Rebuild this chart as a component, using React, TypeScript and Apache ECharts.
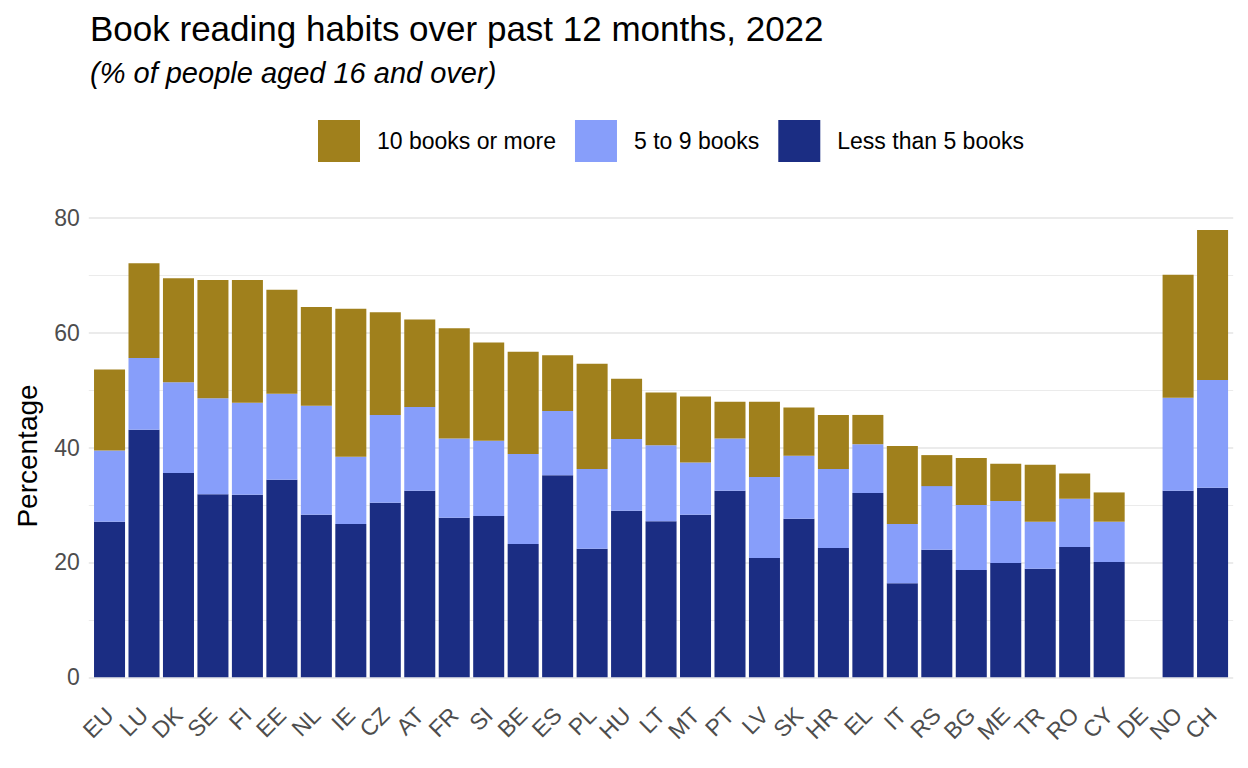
import { useEffect, useRef } from "react";
import * as echarts from "echarts";

const FONT = "'Liberation Sans', Arial, Helvetica, sans-serif";

// country codes in display order (DE has no data)
const countries = [
  "EU", "LU", "DK", "SE", "FI", "EE", "NL", "IE", "CZ", "AT", "FR",
  "SI", "BE", "ES", "PL", "HU", "LT", "MT", "PT", "LV", "SK", "HR",
  "EL", "IT", "RS", "BG", "ME", "TR", "RO", "CY", "DE", "NO", "CH",
];

const lessThan5 = [
  27.1, 43.1, 35.6, 31.9, 31.8, 34.4, 28.3, 26.7, 30.4, 32.5, 27.8,
  28.1, 23.2, 35.2, 22.4, 29.0, 27.2, 28.3, 32.5, 20.8, 27.6, 22.5,
  32.1, 16.4, 22.2, 18.7, 19.9, 18.9, 22.7, 20.1, null, 32.5, 33.0,
];

const fiveToNine = [
  12.4, 12.5, 15.8, 16.7, 16.0, 15.0, 19.0, 11.7, 15.3, 14.6, 13.8,
  13.1, 15.7, 11.2, 13.9, 12.5, 13.2, 9.1, 9.1, 14.1, 11.0, 13.8,
  8.5, 10.3, 11.1, 11.3, 10.8, 8.2, 8.4, 7.0, null, 16.2, 18.8,
];

const tenOrMore = [
  14.1, 16.5, 18.1, 20.6, 21.4, 18.1, 17.2, 25.8, 17.9, 15.2, 19.2,
  17.1, 17.8, 9.7, 18.3, 10.5, 9.2, 11.5, 6.4, 13.1, 8.4, 9.4,
  5.1, 13.6, 5.4, 8.2, 6.5, 9.9, 4.4, 5.1, null, 21.4, 26.1,
];

const legendOrder = ["10 books or more", "5 to 9 books", "Less than 5 books"];

export default function App() {
  const ref = useRef<HTMLDivElement>(null);

  useEffect(() => {
    document.body.style.margin = "0";
    if (!ref.current) return;
    const chart = echarts.init(ref.current, null, { renderer: "svg" });

    const bar = (name: string, data: (number | null)[], color: string) => ({
      name,
      type: "bar",
      stack: "total",
      xAxisIndex: 0,
      yAxisIndex: 0,
      barWidth: "90%",
      itemStyle: { color },
      data,
    });

    chart.setOption({
      animation: false,
      textStyle: { fontFamily: FONT },
      title: [
        {
          text: "Book reading habits over past 12 months, 2022",
          left: 85,
          top: 6,
          textStyle: { fontSize: 35, fontWeight: "normal", color: "#000", fontFamily: FONT },
        },
        {
          text: "(% of people aged 16 and over)",
          left: 85,
          top: 53,
          textStyle: {
            fontSize: 29,
            fontStyle: "italic",
            fontWeight: "normal",
            color: "#000",
            fontFamily: FONT,
          },
        },
      ],
      legend: {
        data: legendOrder,
        top: 115,
        left: 313,
        icon: "rect",
        itemWidth: 42,
        itemHeight: 42,
        itemGap: 19,
        textStyle: { fontSize: 23, color: "#000", padding: [0, 0, 0, 12] },
      },
      graphic: [
        {
          type: "text",
          x: 27,
          y: 456,
          rotation: Math.PI / 2,
          style: {
            text: "Percentage",
            fontSize: 28,
            fontFamily: FONT,
            fill: "#000",
            align: "center",
            verticalAlign: "middle",
          },
        },
      ],
      grid: [
        { left: 92.3, top: 218, width: 1137.5, height: 459.3 },
        { left: 88.8, top: 218, width: 1144.4, height: 459.3 },
      ],
      xAxis: [
        {
          type: "category",
          gridIndex: 0,
          data: countries,
          axisLine: { show: false },
          axisTick: { show: false },
          axisLabel: { rotate: 45, interval: 0, fontSize: 23, color: "#4d4d4d", margin: 34 },
        },
        { type: "value", gridIndex: 1, min: 0, max: 1, show: false },
      ],
      yAxis: [
        { type: "value", gridIndex: 0, min: 0, max: 80, interval: 20, show: false },
        {
          type: "value",
          gridIndex: 1,
          min: 0,
          max: 80,
          interval: 20,
          axisLine: { show: false },
          axisTick: { show: false },
          axisLabel: { fontSize: 23, color: "#4d4d4d", margin: 9 },
          splitLine: { lineStyle: { color: "#ebebeb", width: 2 } },
          minorTick: { show: false, splitNumber: 2 },
          minorSplitLine: { show: true, lineStyle: { color: "#ebebeb", width: 1 } },
        },
      ],
      series: [
        bar("Less than 5 books", lessThan5, "#1b2d83"),
        bar("5 to 9 books", fiveToNine, "#879efa"),
        bar("10 books or more", tenOrMore, "#a0801c"),
      ],
    });

    return () => chart.dispose();
  }, []);

  return <div ref={ref} style={{ width: 1248, height: 768 }} />;
}
